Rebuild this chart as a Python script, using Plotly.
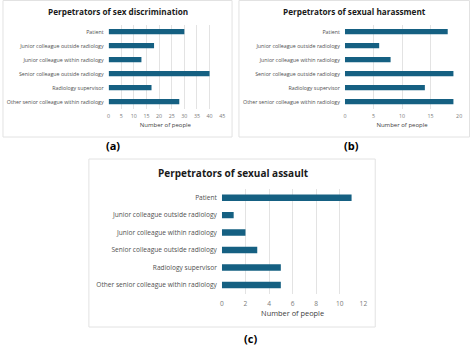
import plotly.graph_objects as go

W, H = 474, 345

categories = [
    "Patient",
    "Junior colleague outside radiology",
    "Junior colleague within radiology",
    "Senior colleague outside radiology",
    "Radiology supervisor",
    "Other senior colleague within radiology",
]
sex_discrimination = [30, 18, 13, 40, 17, 28]
sexual_harassment = [18, 6, 8, 19, 14, 19]
sexual_assault = [11, 1, 2, 3, 5, 5]

titles = [
    "Perpetrators of sex discrimination",
    "Perpetrators of sexual harassment",
    "Perpetrators of sexual assault",
]
panel_labels = ["(a)", "(b)", "(c)"]
axis_title = "Number of people"

BAR = "#156082"
FONT = "Open Sans"

def px(x):
    return x / W

def py(y):
    return 1 - y / H

fig = go.Figure()

panels = [
    dict(vals=sex_discrimination, xd=(108, 223), yd=(24.7, 108.7), rng=[0, 45], dtick=5,
         fs=5.3, tfs=8.2, afs=6, sd=3, box=(1, 0.5, 233, 137), title_xy=(117.5, 11.7), lab_xy=(112, 145.7)),
    dict(vals=sexual_harassment, xd=(347.3, 463), yd=(24.7, 108.7), rng=[0, 20], dtick=5,
         fs=5.3, tfs=8.2, afs=6, sd=3, box=(240, 0.5, 473.5, 137), title_xy=(356.7, 11.7), lab_xy=(353.7, 145.7)),
    dict(vals=sexual_assault, xd=(222.7, 366), yd=(188.9, 293.8), rng=[0, 12], dtick=2,
         fs=6.6, tfs=10, afs=7.4, sd=5, box=(88, 159, 378, 327), title_xy=(234, 172.7), lab_xy=(251.7, 338.3)),
]

for i, p in enumerate(panels):
    sfx = "" if i == 0 else str(i + 1)
    fig.add_trace(go.Bar(
        x=p["vals"], y=categories, orientation="h",
        marker=dict(color=BAR, line=dict(width=0)),
        width=0.37,
        xaxis="x" + sfx, yaxis="y" + sfx,
        hoverinfo="x+y", showlegend=False,
    ))
    fig.update_layout(**{
        "xaxis" + sfx: dict(
            domain=[px(p["xd"][0]), px(p["xd"][1])], range=p["rng"], dtick=p["dtick"],
            anchor="y" + sfx, showgrid=True, gridcolor="#e3e3e3", gridwidth=1,
            zeroline=False, showline=False, ticks="",
            tickfont=dict(family=FONT, size=p["fs"], color="#7a7a7a"),
            ticklabelstandoff=p["sd"],
            title=dict(text=axis_title, font=dict(family=FONT, size=p["afs"], color="#404040"), standoff=3),
            fixedrange=True,
        ),
        "yaxis" + sfx: dict(
            domain=[py(p["yd"][1]), py(p["yd"][0])], anchor="x" + sfx,
            categoryorder="array", categoryarray=categories[::-1],
            showgrid=False, zeroline=False, showline=False, ticks="",
            tickfont=dict(family=FONT, size=p["fs"], color="#505050"),
            ticklabelstandoff=4, fixedrange=True,
        ),
    })
    x0, y0, x1, y1 = p["box"]
    fig.add_shape(type="rect", xref="paper", yref="paper",
                  x0=px(x0), x1=px(x1), y0=py(y1), y1=py(y0),
                  line=dict(color="#e2e2e2", width=1), fillcolor="rgba(0,0,0,0)", layer="below")
    fig.add_annotation(text="<b>" + titles[i] + "</b>", xref="paper", yref="paper",
                       x=px(p["title_xy"][0]), y=py(p["title_xy"][1]), showarrow=False,
                       xanchor="center", yanchor="middle",
                       font=dict(family=FONT, size=p["tfs"], color="#1a1a1a"))
    fig.add_annotation(text="<b>" + panel_labels[i] + "</b>", xref="paper", yref="paper",
                       x=px(p["lab_xy"][0]), y=py(p["lab_xy"][1]), showarrow=False,
                       xanchor="center", yanchor="middle",
                       font=dict(family=FONT, size=11, color="#000000"))

fig.update_layout(
    width=W, height=H, margin=dict(l=0, r=0, t=0, b=0),
    paper_bgcolor="white", plot_bgcolor="white",
    bargap=0.63,
)

fig.write_html("out.html", config={"displayModeBar": False})
